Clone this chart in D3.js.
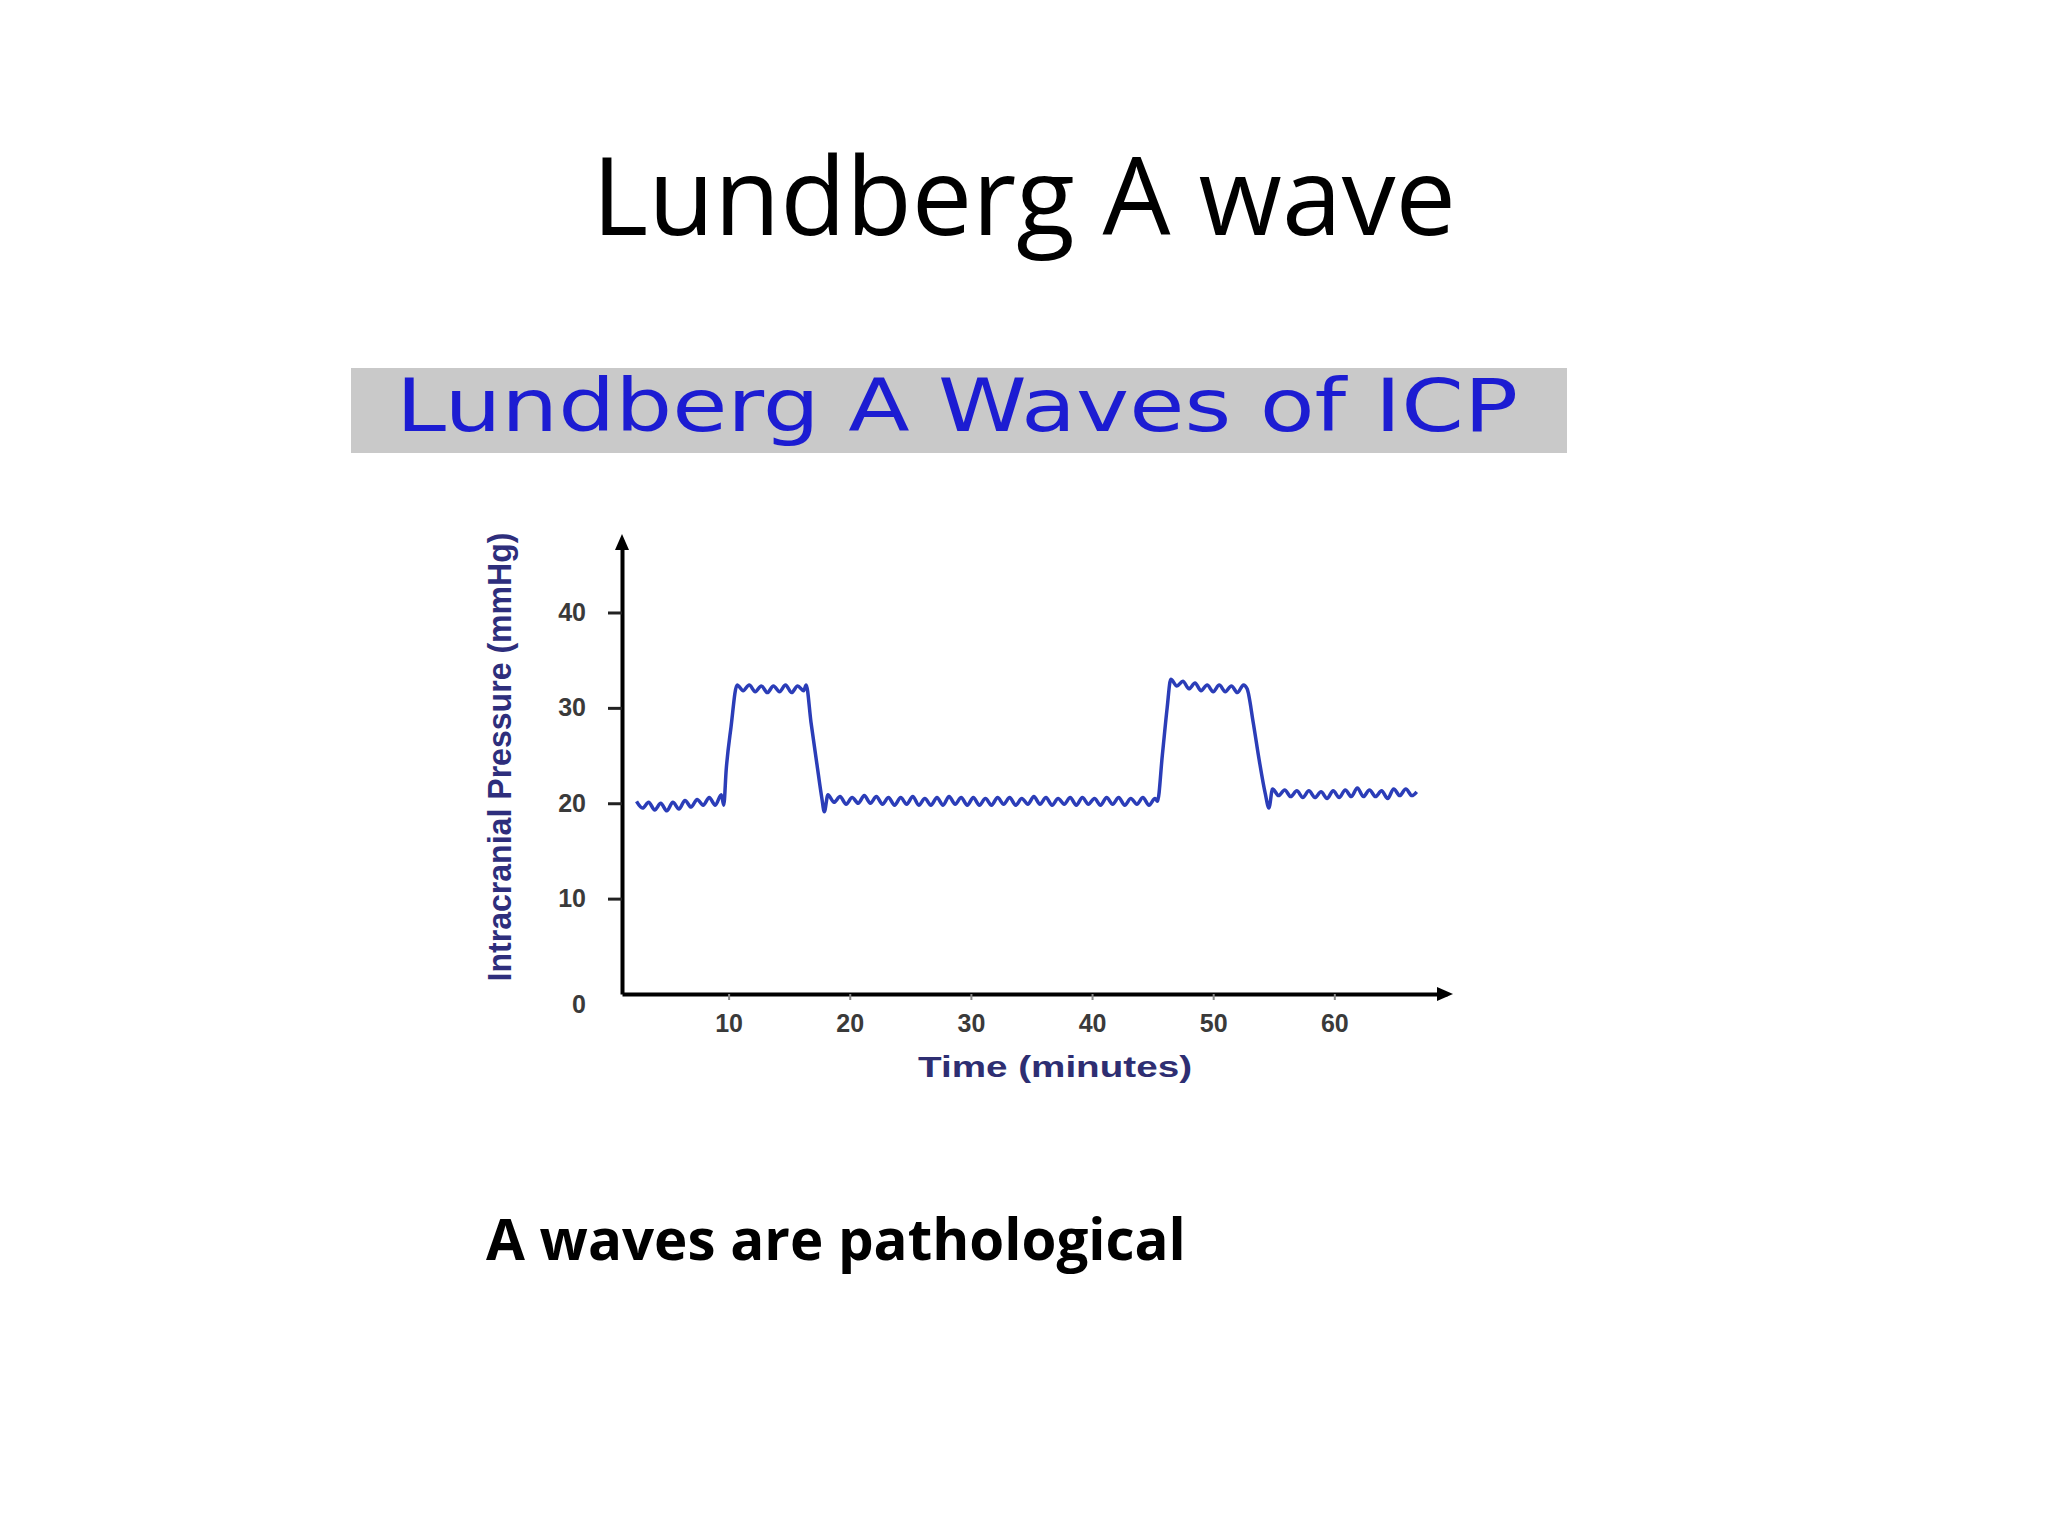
<!DOCTYPE html>
<html>
<head>
<meta charset="utf-8">
<script src="https://cdn.jsdelivr.net/npm/d3@7"></script>
<style>
  body { margin: 0; background: #ffffff; }
</style>
</head>
<body>
<div id="chart"></div>
<script>
// Lundberg A waves - ICP trace
var width = 2048,
    height = 1536;

// time (minutes) and pressure (mmHg)
var times = [
  2.4, 2.9, 3.4, 3.9, 4.4, 4.9, 5.4, 5.9, 6.4, 6.9, 7.4, 7.9, 8.4, 8.9, 9.4, 9.6,
  9.8, 10.2, 10.7,
  11.2, 11.7, 12.2, 12.7, 13.2, 13.7, 14.2, 14.7, 15.2, 15.7, 16.2, 16.4,
  16.8, 17.3, 17.7, 17.9, 18.2, 18.7,
  19.2, 19.7, 20.2, 20.7, 21.2, 21.7, 22.2, 22.7, 23.2, 23.7, 24.2, 24.7, 25.2, 25.7,
  26.2, 26.7, 27.2, 27.7, 28.2, 28.7, 29.2, 29.7, 30.2, 30.7, 31.2, 31.7, 32.2, 32.7,
  33.2, 33.7, 34.2, 34.7, 35.2, 35.7, 36.2, 36.7, 37.2, 37.7, 38.2, 38.7, 39.2, 39.7,
  40.2, 40.7, 41.2, 41.7, 42.2, 42.7, 43.2, 43.7, 44.2, 44.7, 45.2, 45.4,
  45.8, 46.2, 46.5,
  47.0, 47.5, 48.0, 48.5, 49.0, 49.5, 50.0, 50.5, 51.0, 51.5, 52.0, 52.5, 52.8,
  53.3, 53.8, 54.3, 54.6, 54.9,
  55.4, 55.9, 56.4, 56.9, 57.4, 57.9, 58.4, 58.9, 59.4, 59.9, 60.4, 60.9, 61.4, 61.9,
  62.4, 62.9, 63.4, 63.9, 64.4, 64.9, 65.4, 65.9, 66.4, 66.8
];
var pressure = [
  20.2, 19.5, 20.1, 19.3, 20.0, 19.2, 20.1, 19.4, 20.3, 19.6, 20.4, 19.8, 20.6, 19.8, 20.9, 19.8,
  23.5, 28.0, 32.4,
  31.8, 32.4, 31.7, 32.3, 31.6, 32.3, 31.7, 32.4, 31.6, 32.3, 31.8, 32.4,
  28.5, 24.0, 20.5, 19.1, 20.9, 20.1,
  20.7, 19.9, 20.6, 20.0, 20.8, 20.0, 20.7, 19.9, 20.6, 19.8, 20.6, 19.9, 20.7, 19.8,
  20.5, 19.8, 20.6, 19.8, 20.7, 19.9, 20.6, 19.8, 20.6, 19.8, 20.5, 19.8, 20.6, 19.9,
  20.6, 19.8, 20.5, 19.9, 20.7, 19.9, 20.6, 19.8, 20.5, 19.9, 20.6, 19.8, 20.6, 19.9,
  20.5, 19.8, 20.6, 19.9, 20.6, 19.8, 20.5, 19.9, 20.6, 19.8, 20.5, 20.2,
  25.0, 30.0, 33.0,
  32.3, 32.8, 32.0, 32.6, 31.8, 32.4, 31.7, 32.4, 31.7, 32.3, 31.6, 32.4, 32.0,
  28.5, 24.5, 21.0, 19.5, 21.5,
  20.8, 21.4, 20.7, 21.3, 20.6, 21.3, 20.6, 21.2, 20.5, 21.3, 20.6, 21.4, 20.7, 21.6,
  20.7, 21.4, 20.7, 21.3, 20.5, 21.5, 20.8, 21.5, 20.8, 21.2
];

var xTicks = [10, 20, 30, 40, 50, 60];
var yTicks = [0, 10, 20, 30, 40];

var data = times.map(function (t, i) { return { t: t, p: pressure[i] }; });

var svg = d3.select("#chart")
    .append("svg")
    .attr("width", width)
    .attr("height", height);

svg.append("rect")
    .attr("width", width)
    .attr("height", height)
    .attr("fill", "#ffffff");

// scale a text's font size so it spans the given width
function fitWidth(sel, w) {
    var len = sel.node().getComputedTextLength();
    var fs = parseFloat(sel.style("font-size"));
    sel.style("font-size", (fs * w / len) + "px");
}

// slide title
var title = svg.append("text")
    .attr("x", 1024)
    .attr("y", 235)
    .attr("text-anchor", "middle")
    .style("font-family", "'Open Sans', 'Noto Sans', sans-serif")
    .style("font-size", "108px")
    .style("fill", "#000000")
    .text("Lundberg A wave");
fitWidth(title, 864);

// grey banner of the picture
svg.append("rect")
    .attr("x", 351)
    .attr("y", 368)
    .attr("width", 1216)
    .attr("height", 85)
    .attr("fill", "#c9c9c9");

svg.append("text")
    .attr("x", 396)
    .attr("y", 431)
    .attr("textLength", 1122)
    .attr("lengthAdjust", "spacingAndGlyphs")
    .style("font-family", "'DejaVu Sans', Verdana, sans-serif")
    .style("font-size", "73px")
    .style("fill", "#1c1cd2")
    .text("Lundberg A Waves of ICP");

// chart scales
var x = d3.scaleLinear()
    .domain([1.2, 69.3])
    .range([622, 1447]);

var y = d3.scaleLinear()
    .domain([0, 47.6])
    .range([994, 540]);

// y axis
var yAxis = svg.append("g")
    .attr("transform", "translate(" + x(1.2) + ",0)")
    .call(d3.axisLeft(y)
        .tickValues(yTicks)
        .tickSize(14)
        .tickSizeOuter(0)
        .tickPadding(22));

yAxis.select(".domain").attr("stroke", "#000").attr("stroke-width", 4);
yAxis.selectAll(".tick line").attr("stroke", "#222").attr("stroke-width", 3)
    .filter(function (d) { return d === 0; }).remove();
yAxis.selectAll(".tick text")
    .style("font-family", "'Liberation Sans', Arial, sans-serif")
    .style("font-weight", "bold")
    .style("font-size", "25px")
    .style("fill", "#3a3a3a")
    .attr("dy", function (d) { return d === 0 ? "0.75em" : "0.32em"; });

// x axis
var xAxis = svg.append("g")
    .attr("transform", "translate(0," + y(0) + ")")
    .call(d3.axisBottom(x)
        .tickValues(xTicks)
        .tickSize(6)
        .tickSizeOuter(0)
        .tickPadding(14));

xAxis.select(".domain").attr("stroke", "#000").attr("stroke-width", 4);
xAxis.selectAll(".tick line").attr("stroke", "#888").attr("stroke-width", 2);
xAxis.selectAll(".tick text")
    .style("font-family", "'Liberation Sans', Arial, sans-serif")
    .style("font-weight", "bold")
    .style("font-size", "25px")
    .style("fill", "#3a3a3a");

// arrow heads
svg.append("path")
    .attr("d", "M" + x(1.2) + "," + (y(47.6) - 6) + "l-7,16h14z")
    .attr("fill", "#000");
svg.append("path")
    .attr("d", "M" + (x(69.3) + 6) + "," + y(0) + "l-16,-7v14z")
    .attr("fill", "#000");

// axis titles
svg.append("text")
    .attr("transform", "translate(511,757) rotate(-90)")
    .attr("text-anchor", "middle")
    .attr("textLength", 449)
    .attr("lengthAdjust", "spacingAndGlyphs")
    .style("font-family", "'Liberation Sans Narrow', 'Liberation Sans', Arial, sans-serif")
    .style("font-weight", "bold")
    .style("font-size", "33px")
    .style("fill", "#2e2e7c")
    .text("Intracranial Pressure (mmHg)");

svg.append("text")
    .attr("x", 1055)
    .attr("y", 1077)
    .attr("text-anchor", "middle")
    .attr("textLength", 274)
    .attr("lengthAdjust", "spacingAndGlyphs")
    .style("font-family", "'Liberation Sans', Arial, sans-serif")
    .style("font-weight", "bold")
    .style("font-size", "30px")
    .style("fill", "#2e2e72")
    .text("Time (minutes)");

// the ICP trace
var line = d3.line()
    .x(function (d) { return x(d.t); })
    .y(function (d) { return y(d.p); })
    .curve(d3.curveMonotoneX);

svg.append("path")
    .datum(data)
    .attr("d", line)
    .attr("fill", "none")
    .attr("stroke", "#2b3db8")
    .attr("stroke-width", 3.5)
    .attr("stroke-linejoin", "round");

// caption
var caption = svg.append("text")
    .attr("x", 486)
    .attr("y", 1260)
    .style("font-family", "'Open Sans', 'Noto Sans', sans-serif")
    .style("font-weight", "bold")
    .style("font-size", "56px")
    .style("fill", "#000000")
    .text("A waves are pathological");
fitWidth(caption, 700);
</script>
</body>
</html>
